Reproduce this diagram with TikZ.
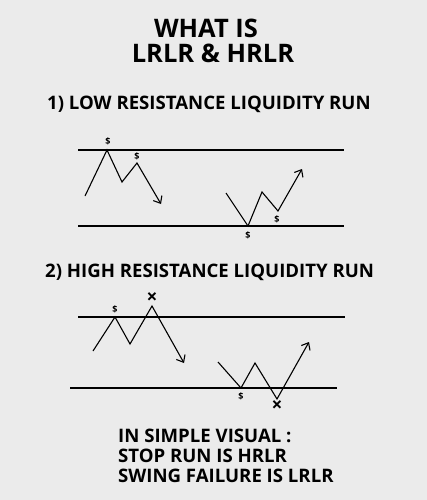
\documentclass[tikz,border=0pt]{standalone}
\usepackage{fontspec}
\setmainfont{Open Sans}
\usetikzlibrary{arrows.meta}
\definecolor{bg}{HTML}{EBEBEB}
\tikzset{
  lvl/.style={line width=1.2pt, black},
  price/.style={line width=1.1pt, black, line join=miter},
  pricearrow/.style={price, -{Straight Barb[length=6pt,width=10pt,line width=1.1pt]}},
  dollar/.style={font=\bfseries\fontsize{9}{10}\selectfont, inner sep=0pt},
  cross/.style={font=\bfseries\fontsize{19}{19}\selectfont, inner sep=0pt},
  title/.style={font=\bfseries\fontsize{25.5}{28}\selectfont, inner sep=0pt, anchor=base},
  heading/.style={font=\bfseries\fontsize{18.6}{22}\selectfont, inner sep=0pt, anchor=base west},
  note/.style={font=\bfseries\fontsize{18.6}{20}\selectfont, inner sep=0pt, anchor=base west}
}
\begin{document}
\begin{tikzpicture}[x=1pt,y=-1pt]
\fill[bg] (0,0) rectangle (427,500);
\useasboundingbox (0,0) rectangle (427,500);

% titles
\node[title] (t1) at (206,38) {WHAT IS};
\node[title] (t2) at (213,63) {LRLR \& HRLR};
\node[heading] (h1) at (47,110) {1) LOW RESISTANCE LIQUIDITY RUN};
\node[heading] (h2) at (45,277) {2) HIGH RESISTANCE LIQUIDITY RUN};

% section 1
\coordinate (l1a) at (78,150); \coordinate (l1b) at (344,150);
\coordinate (l2a) at (78,226); \coordinate (l2b) at (344,226);
\draw[lvl] (l1a) -- (l1b);
\draw[lvl] (l2a) -- (l2b);

\coordinate (a0) at (85,196);
\coordinate (a1) at (107,150);
\coordinate (a2) at (122,182);
\coordinate (a3) at (137,163);
\coordinate (a4) at (161,204);
\draw[pricearrow] (a0) -- (a1) -- (a2) -- (a3) -- (a4);
\node[dollar] (d1) at (108,141) {\$};
\node[dollar] (d2) at (137,156) {\$};

\coordinate (b0) at (226,193);
\coordinate (b1) at (248,226);
\coordinate (b2) at (262,192);
\coordinate (b3) at (278,211);
\coordinate (b4) at (302,169);
\draw[pricearrow] (b0) -- (b1) -- (b2) -- (b3) -- (b4);
\node[dollar] (d3) at (248,235) {\$};
\node[dollar] (d4) at (277,219) {\$};

% section 2
\coordinate (l3a) at (78,317); \coordinate (l3b) at (345,317);
\coordinate (l4a) at (70,388); \coordinate (l4b) at (337,388);
\draw[lvl] (l3a) -- (l3b);
\draw[lvl] (l4a) -- (l4b);

\coordinate (c0) at (93,351);
\coordinate (c1) at (115,317);
\coordinate (c2) at (130,344);
\coordinate (c3) at (152,306);
\coordinate (c4) at (184,363);
\draw[pricearrow] (c0) -- (c1) -- (c2) -- (c3) -- (c4);
\node[dollar] (d5) at (115,309) {\$};
\node[cross] (x1) at (152,298) {×};

\coordinate (e0) at (218,362);
\coordinate (e1) at (241,388);
\coordinate (e2) at (255,363);
\coordinate (e3) at (277,399);
\coordinate (e4) at (309,342);
\draw[pricearrow] (e0) -- (e1) -- (e2) -- (e3) -- (e4);
\node[dollar] (d6) at (241,396) {\$};
\node[cross] (x2) at (277,406) {×};

% notes
\node[note] (n1) at (118,442) {IN SIMPLE VISUAL :};
\node[note] (n2) at (118,462) {STOP RUN IS HRLR};
\node[note] (n3) at (118,482) {SWING FAILURE IS LRLR};
\end{tikzpicture}
\end{document}
